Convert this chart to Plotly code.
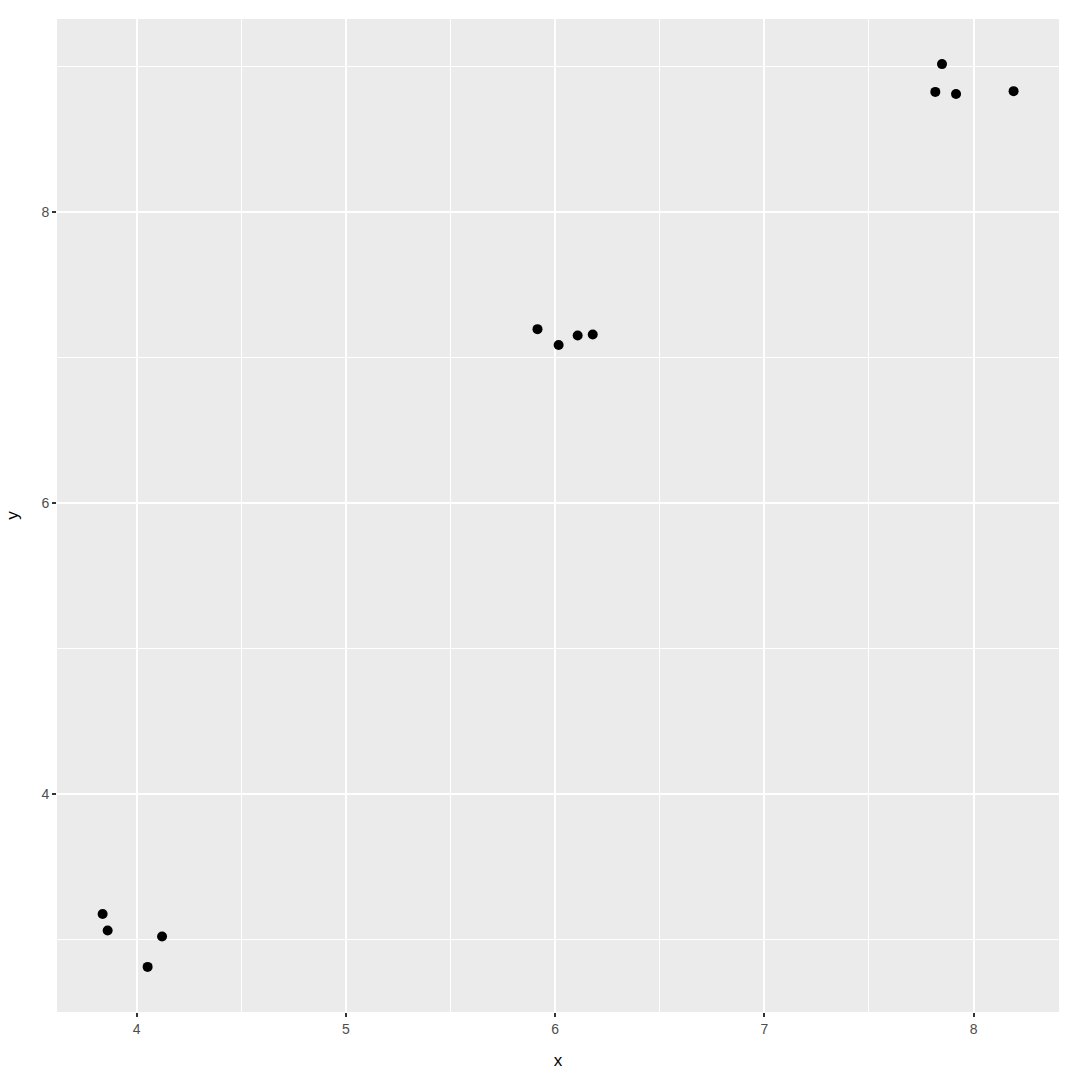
import plotly.graph_objects as go

# points
x = [3.838, 3.862, 4.053, 4.122, 5.916, 6.017, 6.108, 6.180, 7.817, 7.849, 7.916, 8.191]
y = [3.175, 3.061, 2.811, 3.020, 7.195, 7.086, 7.151, 7.158, 8.826, 9.017, 8.812, 8.831]

x_ticks = [4, 5, 6, 7, 8]
y_ticks = [4, 6, 8]

fig = go.Figure()
fig.add_trace(go.Scatter(x=x, y=y, mode="markers",
                         marker=dict(color="black", size=10, line=dict(width=0))))

axis_common = dict(
    showgrid=True, gridcolor="white", gridwidth=2,
    zeroline=False, showline=False,
    ticks="outside", ticklen=4, tickwidth=1.5, tickcolor="#333333",
    tickfont=dict(family="Liberation Sans", size=14, color="#4D4D4D"),
)

fig.update_layout(
    width=1071, height=1080,
    margin=dict(l=57, r=12, t=19, b=68),
    paper_bgcolor="white", plot_bgcolor="#EBEBEB",
    showlegend=False,
    font=dict(family="Liberation Sans"),
    xaxis=dict(range=[3.620, 8.408], tickvals=x_ticks, **axis_common,
               minor=dict(dtick=0.5, tick0=0, gridcolor="white", gridwidth=1, showgrid=True, ticks=""),
               title=dict(text="x", font=dict(size=17, color="black"), standoff=18)),
    yaxis=dict(range=[2.501, 9.327], tickvals=y_ticks, **axis_common,
               minor=dict(dtick=1, tick0=0, gridcolor="white", gridwidth=1, showgrid=True, ticks=""),
               title=dict(text="y", font=dict(size=17, color="black"), standoff=18)),
)

fig.write_html("out.html", config={"displayModeBar": False},
               post_script="document.body.style.margin='0';")
